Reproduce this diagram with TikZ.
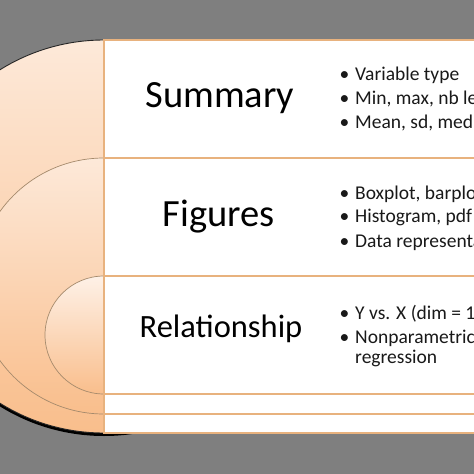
\documentclass[tikz,border=0pt]{standalone}
\usepackage{fontspec}
\setmainfont{Carlito}
\usetikzlibrary{positioning}

\definecolor{bggray}{HTML}{7F7F7F}
\definecolor{peachlt}{HTML}{FDE9D9}
\definecolor{peachdk}{HTML}{F9BE8C}
\definecolor{peachpale}{HTML}{FEF1E7}
\definecolor{rowline}{HTML}{E8B27E}
\definecolor{arcline}{HTML}{A58A6C}

\newcommand{\bul}{\makebox[15.5pt][l]{\textbullet}}

\begin{document}
\begin{tikzpicture}[
  x=1pt, y=-1pt,
  row/.style={fill=white, draw=rowline, line width=1.1pt},
  ring/.style={top color=peachlt, bottom color=peachdk, draw=arcline, line width=0.7pt},
  title/.style={anchor=base, inner sep=0pt, text=black},
  items/.style={anchor=base west, inner sep=0pt, align=left, text=black!90,
    font=\fontsize{19.5}{20}\selectfont},
]
\useasboundingbox (0,0) rectangle (474,474);
\clip (0,0) rectangle (474,474);
\fill[bggray] (0,0) rectangle (474,474);

% === Nested half rings ===
\fill[black] (104,238.5) circle[radius=197.5];
\shade[ring, draw=black!85, line width=0.9pt] (104,236.5) circle[radius=196.5];
\shade[ring] (104,286) circle[radius=128];
\shade[ring, top color=peachpale] (104,335) circle[radius=59];

% === Rows ===
\filldraw[row] (104,40) rectangle (480,158);
\filldraw[row] (104,158) rectangle (480,276);
\filldraw[row] (104,276) rectangle (480,394);
\filldraw[row] (104,394) rectangle (480,414);
\filldraw[row] (104,414) rectangle (480,433);

% === Titles ===
\node[title, font=\fontsize{38.5}{40}\selectfont] (summary) at (220,107) {Summary};
\node[title, font=\fontsize{38.5}{40}\selectfont] (figures) at (219,226) {Figures};
\node[title, font=\fontsize{32.5}{34}\selectfont] (relation) at (221,337) {Relationship};

% === Bullet lists (anchored on the last line) ===
\node[items] (sumitems) at (339.5,128)
  {\bul Variable type\\[3.5pt] \bul Min, max, nb levels\\[4pt] \bul Mean, sd, median};
\node[items] (figitems) at (339.5,247)
  {\bul Boxplot, barplot\\[3.5pt] \bul Histogram, pdf\\[4.5pt] \bul Data representation};
\node[items] (relitems) at (339.5,363)
  {\bul Y vs. X (dim = 1)\\[4pt] \bul Nonparametric\\ \hspace*{15.5pt}regression};

\end{tikzpicture}
\end{document}
